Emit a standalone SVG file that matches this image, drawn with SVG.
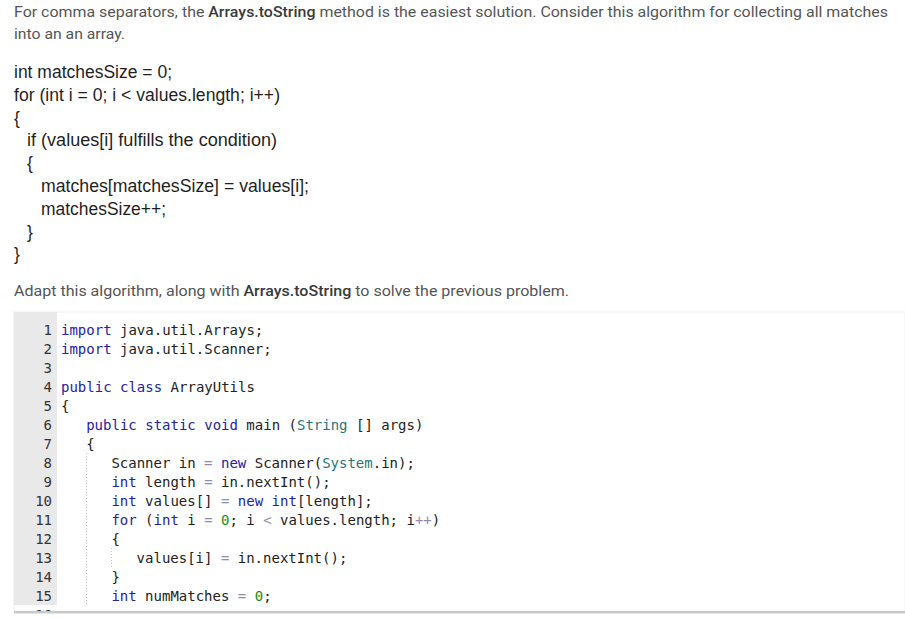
<svg xmlns="http://www.w3.org/2000/svg" width="905" height="618" viewBox="0 0 905 618">
<defs>
<style>
.prose{font-family:Roboto,"Liberation Sans",sans-serif;font-size:15px;fill:#555555;}
.b{font-weight:500;fill:#3a3a3a;}
.pc{font-family:"Liberation Sans",Arial,sans-serif;font-size:17.5px;fill:#1f1f1f;}
.code{font-family:"DejaVu Sans Mono","Liberation Mono",monospace;font-size:14px;fill:#222222;white-space:pre;}
.ln{font-family:"DejaVu Sans Mono","Liberation Mono",monospace;font-size:14px;fill:#333333;text-anchor:end;}
.k{fill:#2323a3;}
.t{fill:#1f7878;}
.n{fill:#119011;}
.o{fill:#8e8eaa;}
.guide{stroke:#c4c4c4;stroke-width:1;stroke-dasharray:1 2;}
</style>
<clipPath id="boxclip"><rect x="14" y="312" width="891" height="299"/></clipPath>
</defs>
<rect width="905" height="618" fill="#ffffff"/>

<g id="intro">
<text class="prose" x="14" y="17" textLength="874" lengthAdjust="spacingAndGlyphs">For comma separators, the <tspan class="b">Arrays.toString</tspan> method is the easiest solution. Consider this algorithm for collecting all matches</text>
<text class="prose" x="14" y="39" textLength="111" lengthAdjust="spacingAndGlyphs">into an an array.</text>
</g>

<g id="pseudocode">
<text class="pc" x="14" y="78" textLength="158" lengthAdjust="spacingAndGlyphs">int matchesSize = 0;</text>
<text class="pc" x="14" y="101" textLength="266" lengthAdjust="spacingAndGlyphs">for (int i = 0; i &lt; values.length; i++)</text>
<text class="pc" x="14" y="124">{</text>
<text class="pc" x="27" y="146" textLength="250" lengthAdjust="spacingAndGlyphs">if (values[i] fulfills the condition)</text>
<text class="pc" x="27" y="169">{</text>
<text class="pc" x="41" y="192" textLength="268" lengthAdjust="spacingAndGlyphs">matches[matchesSize] = values[i];</text>
<text class="pc" x="41" y="215" textLength="125" lengthAdjust="spacingAndGlyphs">matchesSize++;</text>
<text class="pc" x="27" y="238">}</text>
<text class="pc" x="14" y="260">}</text>
</g>

<g id="instruction">
<text class="prose" x="14" y="296" textLength="555" lengthAdjust="spacingAndGlyphs">Adapt this algorithm, along with <tspan class="b">Arrays.toString</tspan> to solve the previous problem.</text>
</g>

<g id="code-box">
<rect x="14" y="312" width="891" height="299" fill="#ffffff" stroke="#f0f0f0" stroke-width="1"/>
<rect x="14" y="312" width="43" height="293" fill="#e9e9e9"/>
<line class="guide" x1="86.5" y1="453" x2="86.5" y2="605"/>
<line class="guide" x1="111.5" y1="548" x2="111.5" y2="567"/>
<g clip-path="url(#boxclip)">
<text class="ln" x="52" y="335">1</text>
<text class="ln" x="52" y="354">2</text>
<text class="ln" x="52" y="373">3</text>
<text class="ln" x="52" y="392">4</text>
<text class="ln" x="52" y="411">5</text>
<text class="ln" x="52" y="430">6</text>
<text class="ln" x="52" y="449">7</text>
<text class="ln" x="52" y="468">8</text>
<text class="ln" x="52" y="487">9</text>
<text class="ln" x="52" y="506">10</text>
<text class="ln" x="52" y="525">11</text>
<text class="ln" x="52" y="544">12</text>
<text class="ln" x="52" y="563">13</text>
<text class="ln" x="52" y="582">14</text>
<text class="ln" x="52" y="601">15</text>
<text class="ln" x="52" y="620">16</text>
<text class="code" x="61" y="335"><tspan class="k">import</tspan> java.util.Arrays;</text>
<text class="code" x="61" y="354"><tspan class="k">import</tspan> java.util.Scanner;</text>
<text class="code" x="61" y="392"><tspan class="k">public</tspan> <tspan class="k">class</tspan> ArrayUtils</text>
<text class="code" x="61" y="411">{</text>
<text class="code" x="86.2" y="430"><tspan class="k">public</tspan> <tspan class="k">static</tspan> <tspan class="k">void</tspan> main (<tspan class="t">String</tspan> [] args)</text>
<text class="code" x="86.2" y="449">{</text>
<text class="code" x="111.4" y="468">Scanner in <tspan class="o">=</tspan> <tspan class="k">new</tspan> Scanner(<tspan class="t">System</tspan>.in);</text>
<text class="code" x="111.4" y="487"><tspan class="k">int</tspan> length <tspan class="o">=</tspan> in.nextInt();</text>
<text class="code" x="111.4" y="506"><tspan class="k">int</tspan> values[] <tspan class="o">=</tspan> <tspan class="k">new</tspan> <tspan class="k">int</tspan>[length];</text>
<text class="code" x="111.4" y="525"><tspan class="k">for</tspan> (<tspan class="k">int</tspan> i <tspan class="o">=</tspan> <tspan class="n">0</tspan>; i <tspan class="o">&lt;</tspan> values.length; i<tspan class="o">++</tspan>)</text>
<text class="code" x="111.4" y="544">{</text>
<text class="code" x="136.6" y="563">values[i] <tspan class="o">=</tspan> in.nextInt();</text>
<text class="code" x="111.4" y="582">}</text>
<text class="code" x="111.4" y="601"><tspan class="k">int</tspan> numMatches <tspan class="o">=</tspan> <tspan class="n">0</tspan>;</text>
</g>
<rect x="14" y="611" width="891" height="2" fill="#c9c9c9"/>
<rect x="14" y="613" width="891" height="1" fill="#e6e6e6"/>
</g>
</svg>
